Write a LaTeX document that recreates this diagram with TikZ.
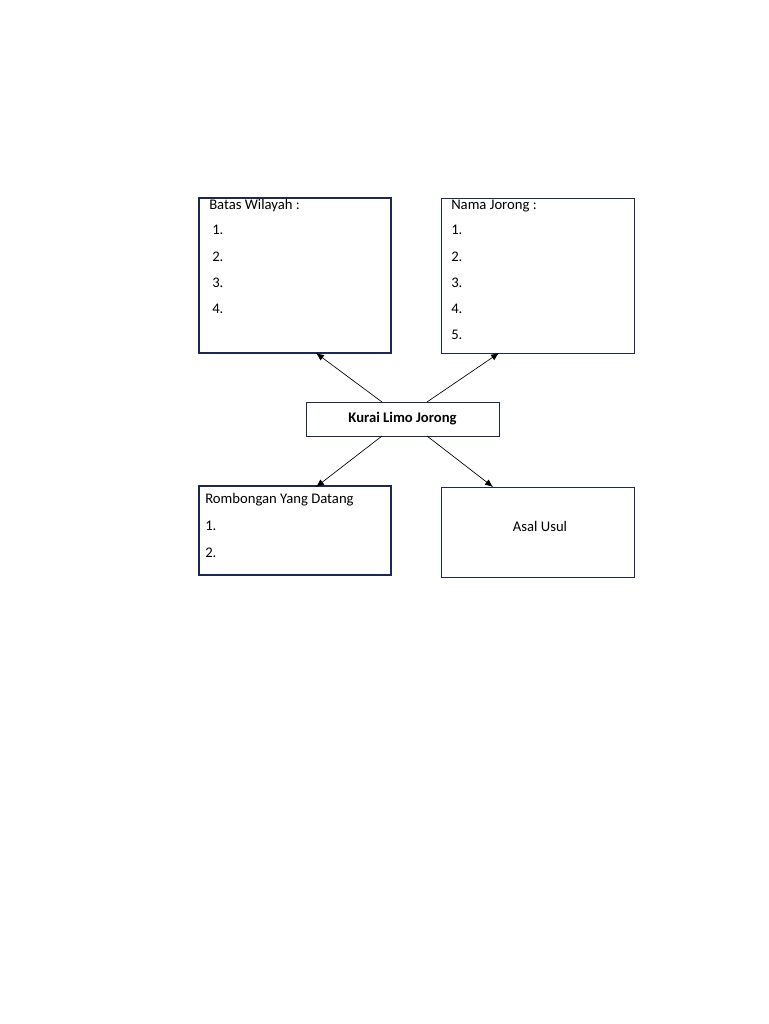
\documentclass[tikz,border=0pt]{standalone}
\usepackage{fontspec}
\setmainfont{Carlito}
\usetikzlibrary{arrows.meta}
\definecolor{navy}{RGB}{31,40,80}
\begin{document}
\begin{tikzpicture}[x=0.75pt,y=-0.75pt,
  thickbox/.style={draw=navy,line width=1.5pt},
  thinbox/.style={draw=navy,line width=0.6pt},
  txt/.style={anchor=west,inner sep=0pt,font=\fontsize{11}{13}\selectfont},
  arr/.style={-{Latex[length=6pt,width=5pt]},line width=0.5pt}]
\useasboundingbox (0,0) rectangle (768,1024);
\node[thickbox,minimum width=192pt*0.75,minimum height=155pt*0.75,inner sep=0] (bw) at (295,275.5) {};
\node[thinbox,minimum width=193pt*0.75,minimum height=155pt*0.75,inner sep=0] (nj) at (537.5,275.5) {};
\node[thinbox,minimum width=193pt*0.75,minimum height=34pt*0.75,inner sep=0,font=\bfseries\fontsize{11}{13}\selectfont] (c) at (402.5,419) {Kurai Limo Jorong};
\node[thickbox,minimum width=192pt*0.75,minimum height=89pt*0.75,inner sep=0] (rb) at (295,530.5) {};
\node[thinbox,minimum width=193pt*0.75,minimum height=90pt*0.75,inner sep=0] (au) at (537.5,532) {};
\node[font=\fontsize{11}{13}\selectfont,inner sep=0] (aut) at (540,526) {Asal Usul};
\node[txt] (t1) at (209,206) {Batas Wilayah :};
\node[txt] (t2) at (212,230) {1.};
\node[txt] (t3) at (212,257) {2.};
\node[txt] (t4) at (212,283) {3.};
\node[txt] (t5) at (212,309) {4.};
\node[txt] (n1) at (451,206) {Nama Jorong :};
\node[txt] (n2) at (451,230) {1.};
\node[txt] (n3) at (451,257) {2.};
\node[txt] (n4) at (451,283) {3.};
\node[txt] (n5) at (451,309) {4.};
\node[txt] (n6) at (451,335) {5.};
\node[txt] (r1) at (205,500) {Rombongan Yang Datang};
\node[txt] (r2) at (205,526) {1.};
\node[txt] (r3) at (205,553) {2.};
\coordinate (c1) at (382,402);
\coordinate (c2) at (427,402);
\coordinate (c3) at (382,436);
\coordinate (c4) at (427,436);
\coordinate (e1) at (316,353);
\coordinate (e2) at (499,353);
\coordinate (e3) at (316,487);
\coordinate (e4) at (493,487);
\draw[arr] (c1) -- (e1);
\draw[arr] (c2) -- (e2);
\draw[arr] (c3) -- (e3);
\draw[arr] (c4) -- (e4);
\end{tikzpicture}
\end{document}
